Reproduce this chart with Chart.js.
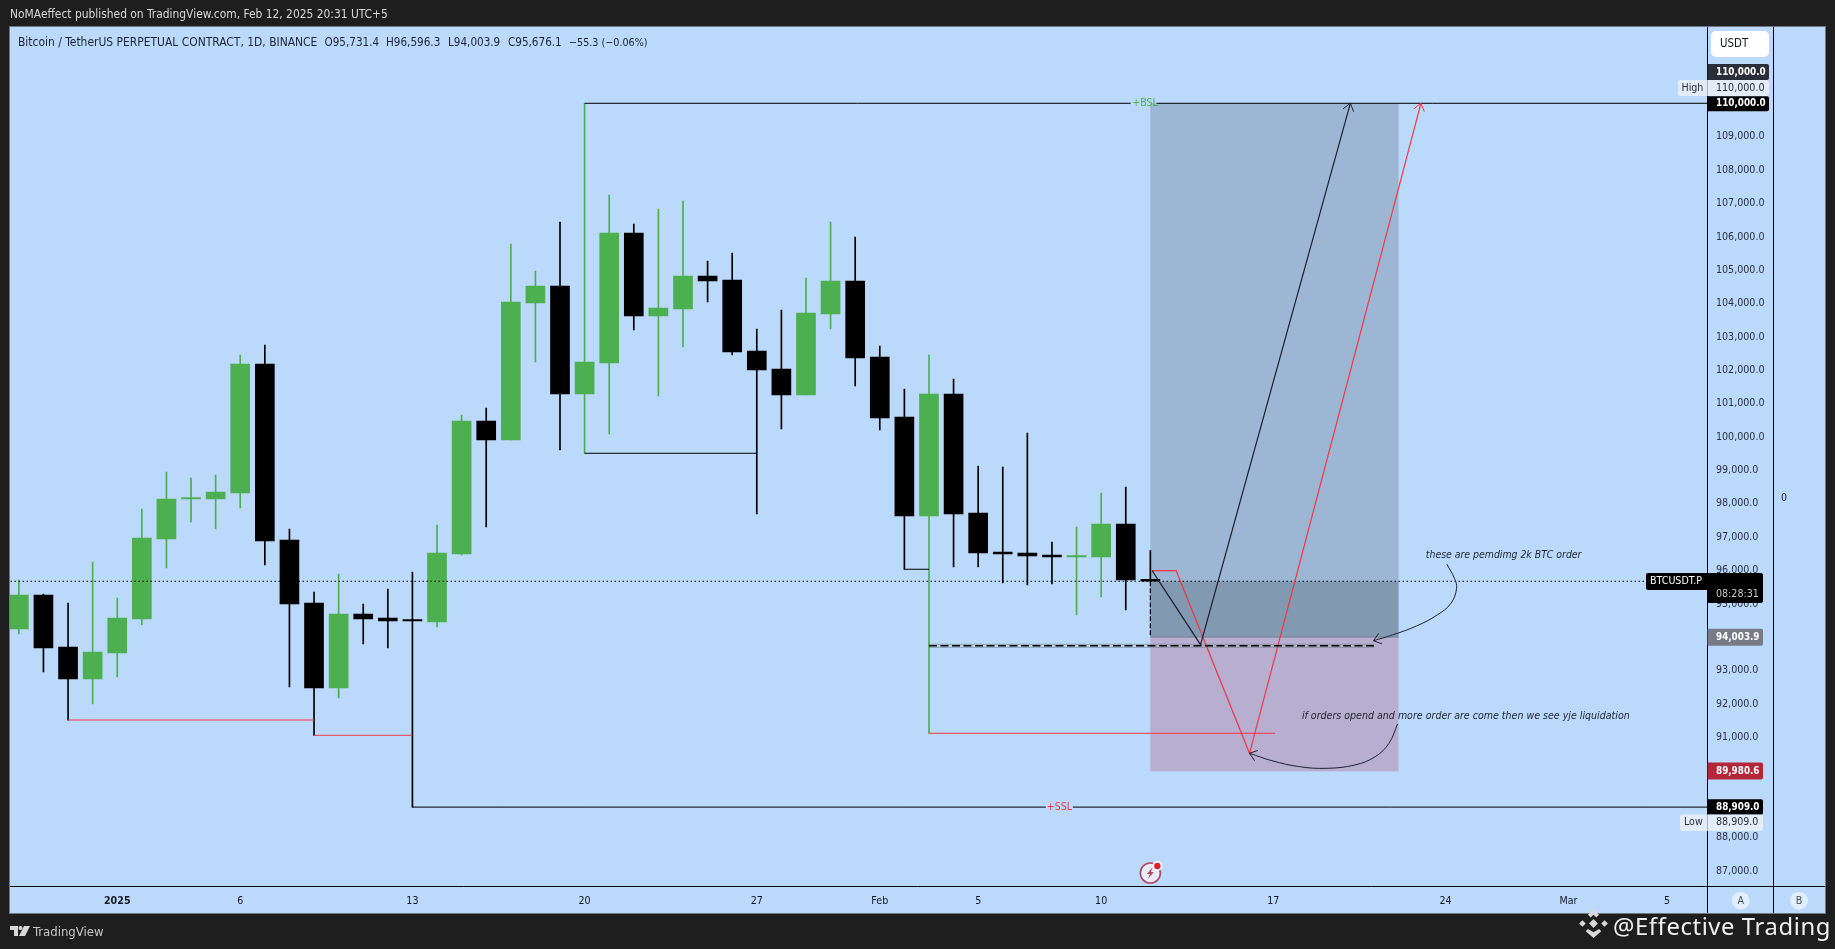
<!DOCTYPE html>
<html lang="en">
<head>
    <meta charset="UTF-8">
    <title>BTCUSDT.P - Chart.js</title>
    <script src="https://cdn.jsdelivr.net/npm/chart.js"></script>
    <style>
        html, body { margin: 0; padding: 0; background: #1e1e1e; overflow: hidden; }
        #wrap { position: relative; width: 1835px; height: 949px; }
        canvas { position: absolute; left: 0; top: 0; }
        .txt { position: absolute; white-space: pre; font-family: "DejaVu Sans Condensed", "Liberation Sans", sans-serif; }
        #published { left: 10px; top: 7px; font-size: 11.9px; color: #d8d8d8; }
        .legend { top: 35px; font-size: 11.6px; color: #1a2433; }
        #tvname { left: 33px; top: 924px; font-size: 13px; color: #c8c8c8; }
        #watermark { left: 1613px; top: 910px; font-family: "Noto Sans", sans-serif; font-size: 23.8px; letter-spacing: 0.6px; color: #f0f0f0; }
        svg { position: absolute; }
    </style>
</head>
<body>
<div id="wrap">
    <canvas id="chart" width="1835" height="949"></canvas>
    <div class="txt" id="published">NoMAeffect published on TradingView.com, Feb 12, 2025 20:31 UTC+5</div>
    <div class="txt legend" style="left:18px;font-size:11.95px">Bitcoin / TetherUS PERPETUAL CONTRACT, 1D, BINANCE</div>
    <div class="txt legend" style="left:324.5px">O95,731.4</div>
    <div class="txt legend" style="left:386px">H96,596.3</div>
    <div class="txt legend" style="left:448px">L94,003.9</div>
    <div class="txt legend" style="left:508px">C95,676.1</div>
    <div class="txt legend" style="left:569px;font-size:10.7px;top:35.5px">−55.3 (−0.06%)</div>
    <svg style="left:10px;top:925px" width="20" height="12" viewBox="0 0 20 12">
        <path d="M0 1h8v10H4V5H0z M14 1h6l-5 10H9z" fill="#d8d8d8"/><circle cx="10.5" cy="3" r="2" fill="#d8d8d8"/>
    </svg>
    <div class="txt" id="tvname">TradingView</div>
    <svg style="left:1578px;top:908px" width="31" height="31" viewBox="0 0 28 28">
        <path d="M14 1l5 5-2.5 2.5L14 6l-2.5 2.5L9 6z M1 14l3-3 3 3-3 3z M21 14l3-3 3 3-3 3z M14 10l4 4-4 4-4-4z M9 19l5 3 5-3 2 2-7 6-7-6z" fill="#d8d8d8"/>
    </svg>
    <div class="txt" id="watermark">@Effective Trading</div>
</div>

<script>
// daily candles, first one is Dec 28 2024
const opens = [94246,95265,93706,92748,93526,94545,96943,98142,98142,98321,102188,96914,95025,92478,94696,94576,94515,94455,96493,100479,
    99909,104015,104525,101289,102218,106113,103626,103836,104824,104705,102577,102037,101259,103686,104675,102397,100599,97632,101288,97722,
    96553,96523,96464,96404,96404,97392,95731.4];
const highs = [95714,95295,95025,96254,95175,97842,98951,98771,98861,102457,102756,97243,95354,95894,94995,95445,95954,97362,100658,100869,
    105783,104974,106443,110000,107252,106383,106833,107072,105274,105514,103236,103806,104765,106443,105994,102727,101438,102456,101738,99130,
    99100,100119,96853,97303,98321,98501,96596.3];
const lows = [94096,92957,91518,91998,92807,94366,96074,97452,97243,97872,96163,92508,91061,92178,93796,93676,88909,94306,96464,97303,
    99909,102248,99610,99510,100090,103206,101229,102697,104045,102457,97693,100239,101259,103236,101528,100210,96032,91115,96103,96103,
    95625,95565,95595,94665,95205,94815,95676.1];
const closes = [95265,93676,92748,93556,94576,96973,98142,98162,98351,102188,96884,94995,92478,94696,94545,94485,94485,96523,100479,99909,
    104045,104525,101289,102248,106113,103626,103866,104824,104675,102547,102007,101259,103716,104675,102367,100570,97632,101288,97692,96523,
    96493,96433,96404,96433,97392,95714,95676.1];

const xTickIndexes = [4, 9, 16, 23, 30, 35, 39, 44, 51, 58, 63, 67];
const xTickLabels = ['2025', '6', '13', '20', '27', 'Feb', '5', '10', '17', '24', 'Mar', '5'];
const yTickValues = [87000,88000,91000,92000,93000,95000,96000,97000,98000,99000,100000,101000,102000,103000,104000,105000,106000,107000,108000,109000];

const lastPrice = 95676.1;
const entryPrice = 94003.9;
const stopPrice = 89980.6;
const targetPrice = 110000;
const lowPrice = 88909;
const boxStart = 46;
const boxEnd = 56.09;

// [x (candle index), price] points of the drawings
const bslLeft = [[23, 110000], [45.2, 110000]];
const bslRight = [[46.25, 110000], [68.67, 110000]];
const sslLeft = [[16, 88909], [41.75, 88909]];
const sslRight = [[42.85, 88909], [68.67, 88909]];
const redSweepA = [[2, 91519], [12, 91519]];
const redSweepB = [[12, 91061], [16, 91061]];
const redSweepC = [[37, 91121], [51.07, 91121]];
const blackSweepA = [[23, 99512], [30, 99512]];
const blackSweepB = [[36, 96036], [37, 96036]];
const pendingLine = [[37, 93745], [55.1, 93745]];
const pendingTop = [[37, 93787], [55.1, 93787]];
const pendingBottom = [[37, 93697], [55.1, 93697]];
const lastCandleDash = [[46, 95676], [46, 94004]];
const blackPath = [[46.07, 95994], [48.04, 93776], [54.13, 110000]];
const redPath = [[46.07, 95994], [47.05, 95994], [50.03, 90522], [57, 110000]];
const curveOne = [[58.05, 96194], [58.36, 95766], [58.45, 95466], [58.22, 95017], [57.66, 94666], [56.82, 94336], [55.84, 94067], [55.07, 93896]];
const curveTwo = [[56.05, 91400], [55.7, 90821], [55.14, 90420], [54.31, 90171], [53.18, 90072], [52.07, 90120], [50.94, 90300], [50.03, 90522]];

const noteOne = 'these are pemdimg 2k BTC order';
const noteTwo = 'if orders opend and more order are come then we see yje liquidation';

const GREEN = '#4caf50';
const BLACK = '#000000';
const RED = '#f23645';
const SANS = '"DejaVu Sans Condensed", "Liberation Sans", sans-serif';

const candleColors = closes.map((c, i) => c >= opens[i] ? GREEN : BLACK);

function lineSet(points, color, extra) {
    return Object.assign({
        type: 'line',
        data: points.map(p => ({ x: p[0], y: p[1] })),
        borderColor: color,
        borderWidth: 1,
        pointRadius: 0,
        order: 1
    }, extra || {});
}

function roundRect(ctx, x, y, w, h, r, color) {
    ctx.fillStyle = color;
    ctx.beginPath();
    ctx.roundRect(x, y, w, h, r);
    ctx.fill();
}

function tag(ctx, text, y, h, bg, fg, bold, w) {
    roundRect(ctx, 1707.5, y - h / 2, w || 55.5, h, [0, 2, 2, 0], bg);
    ctx.fillStyle = fg;
    ctx.font = bold ? 'bold 9.8px ' + SANS : '10.6px ' + SANS;
    ctx.textAlign = 'left';
    ctx.textBaseline = 'middle';
    ctx.fillText(text, 1716, y);
}

function arrowHead(ctx, xs, ys, points, color) {
    const n = points.length;
    const tipX = xs.getPixelForValue(points[n - 1][0]);
    const tipY = ys.getPixelForValue(points[n - 1][1]);
    const a = Math.atan2(ys.getPixelForValue(points[n - 2][1]) - tipY, xs.getPixelForValue(points[n - 2][0]) - tipX);
    ctx.strokeStyle = color;
    ctx.lineWidth = 1;
    ctx.beginPath();
    ctx.moveTo(tipX + 9 * Math.cos(a + 0.65), tipY + 9 * Math.sin(a + 0.65));
    ctx.lineTo(tipX, tipY);
    ctx.lineTo(tipX + 9 * Math.cos(a - 0.65), tipY + 9 * Math.sin(a - 0.65));
    ctx.stroke();
}

const paneBackground = {
    id: 'paneBackground',
    beforeDraw(chart) {
        const ctx = chart.ctx;
        ctx.save();
        ctx.fillStyle = '#bbd9fb';
        ctx.fillRect(10, 27, 1815, 886);
        ctx.strokeStyle = '#6f7680';
        ctx.strokeRect(9.5, 26.5, 1816, 887);
        ctx.restore();
    },
    beforeDatasetsDraw(chart) {
        const ctx = chart.ctx;
        const xs = chart.scales.x, ys = chart.scales.y;
        const left = xs.getPixelForValue(boxStart), right = xs.getPixelForValue(boxEnd);
        const band = (top, bottom, color) => {
            const y0 = ys.getPixelForValue(top), y1 = ys.getPixelForValue(bottom);
            ctx.fillStyle = color;
            ctx.fillRect(left, y0, right - left, y1 - y0);
        };
        ctx.save();
        band(targetPrice, lastPrice, '#9db6d4');
        band(lastPrice, entryPrice, '#8299b2');
        band(entryPrice, stopPrice, '#b8aed0');
        ctx.strokeStyle = '#76808f';
        ctx.beginPath();
        ctx.moveTo(left, ys.getPixelForValue(entryPrice));
        ctx.lineTo(right, ys.getPixelForValue(entryPrice));
        ctx.stroke();
        ctx.restore();
    }
};

const overlays = {
    id: 'overlays',
    afterDraw(chart) {
        const ctx = chart.ctx;
        const xs = chart.scales.x, ys = chart.scales.y;
        ctx.save();

        // axis separators
        ctx.strokeStyle = '#000';
        ctx.lineWidth = 1;
        ctx.beginPath();
        ctx.moveTo(10, 886.5); ctx.lineTo(1825, 886.5);
        ctx.moveTo(1707.5, 27); ctx.lineTo(1707.5, 913);
        ctx.moveTo(1773.5, 27); ctx.lineTo(1773.5, 913);
        ctx.stroke();

        // arrow ends
        arrowHead(ctx, xs, ys, blackPath, '#1c2230');
        arrowHead(ctx, xs, ys, redPath, RED);
        arrowHead(ctx, xs, ys, curveOne, '#1c2230');
        arrowHead(ctx, xs, ys, curveTwo, '#1c2230');

        // +BSL / +SSL
        ctx.textBaseline = 'middle';
        ctx.textAlign = 'center';
        ctx.font = '10.5px ' + SANS;
        ctx.fillStyle = GREEN;
        ctx.fillText('+BSL', xs.getPixelForValue(45.78), ys.getPixelForValue(targetPrice));
        ctx.fillStyle = RED;
        ctx.fillText('+SSL', xs.getPixelForValue(42.3), ys.getPixelForValue(lowPrice));

        // notes
        ctx.textAlign = 'left';
        ctx.fillStyle = '#1c2230';
        ctx.font = 'italic 10.4px ' + SANS;
        ctx.fillText(noteOne, xs.getPixelForValue(57.2), ys.getPixelForValue(96460));
        ctx.font = 'italic 10.55px ' + SANS;
        ctx.fillText(noteTwo, xs.getPixelForValue(52.16), ys.getPixelForValue(91620));

        // lightning marker on the last candle
        const ix = xs.getPixelForValue(46), iy = 873;
        ctx.strokeStyle = '#b5455f';
        ctx.lineWidth = 1.6;
        ctx.fillStyle = '#e8eef8';
        ctx.beginPath(); ctx.arc(ix, iy, 10, 0, Math.PI * 2); ctx.fill(); ctx.stroke();
        ctx.fillStyle = '#b5455f';
        ctx.beginPath();
        ctx.moveTo(ix + 2.5, iy - 6); ctx.lineTo(ix - 3.5, iy + 1); ctx.lineTo(ix - 0.5, iy + 1);
        ctx.lineTo(ix - 2.5, iy + 6); ctx.lineTo(ix + 3.5, iy - 1); ctx.lineTo(ix + 0.5, iy - 1);
        ctx.closePath(); ctx.fill();
        ctx.fillStyle = '#fff';
        ctx.beginPath(); ctx.arc(ix + 7, iy - 7, 5, 0, Math.PI * 2); ctx.fill();
        ctx.fillStyle = '#e0202c';
        ctx.beginPath(); ctx.arc(ix + 7, iy - 7, 3.2, 0, Math.PI * 2); ctx.fill();

        // unit button
        roundRect(ctx, 1711, 31, 58, 26, 5, '#ffffff');
        ctx.fillStyle = '#131722';
        ctx.font = '11.4px ' + SANS;
        ctx.fillText('USDT', 1720, 44.5);

        // price tags
        tag(ctx, '110,000.0', 72, 16, '#2a2e39', '#fff', true, 61.5);
        tag(ctx, '110,000.0', 88, 16, '#e3edf9', '#2a2e39', false, 61.5);
        tag(ctx, '110,000.0', 103.7, 15, '#000', '#fff', true, 61.5);
        roundRect(ctx, 1678, 80, 29.5, 16, [2, 0, 0, 2], '#e3edf9');
        ctx.fillStyle = '#2a2e39';
        ctx.font = '10.6px ' + SANS;
        ctx.fillText('High', 1681.5, 88);

        roundRect(ctx, 1646, 573, 61.5, 17, [2, 0, 0, 2], '#000');
        ctx.fillStyle = '#fff';
        ctx.font = '10.6px ' + SANS;
        ctx.fillText('BTCUSDT.P', 1650, 581.5);
        roundRect(ctx, 1707.5, 573, 55.5, 30, [0, 2, 2, 0], '#000');
        ctx.font = 'bold 9.8px ' + SANS;
        ctx.fillText('95,676.1', 1716, 581.5);
        ctx.fillStyle = '#c9c9c9';
        ctx.font = '10.6px ' + SANS;
        ctx.fillText('08:28:31', 1716, 594.5);

        tag(ctx, '94,003.9', 637.3, 17, '#787b86', '#fff', true);
        tag(ctx, '89,980.6', 771, 17, '#b2283a', '#fff', true);
        tag(ctx, '88,909.0', 807, 15.5, '#000', '#fff', true);
        tag(ctx, '88,909.0', 822.7, 16.5, '#e3edf9', '#2a2e39', false);
        roundRect(ctx, 1680, 814.5, 27.5, 16.5, [2, 0, 0, 2], '#e3edf9');
        ctx.fillStyle = '#2a2e39';
        ctx.font = '10.6px ' + SANS;
        ctx.fillText('Low', 1684, 822.7);

        ctx.fillStyle = '#1c2230';
        ctx.fillText('0', 1781, 498.5);

        // scale buttons
        [['A', 1740.7], ['B', 1799]].forEach(b => {
            ctx.fillStyle = 'rgba(255,255,255,0.55)';
            ctx.beginPath(); ctx.arc(b[1], 900.7, 9, 0, Math.PI * 2); ctx.fill();
            ctx.fillStyle = '#4a4e5a';
            ctx.textAlign = 'center';
            ctx.fillText(b[0], b[1], 901);
        });
        ctx.restore();
    }
};

new Chart(document.getElementById('chart').getContext('2d'), {
    type: 'bar',
    data: {
        datasets: [
            {
                data: lows.map((l, i) => ({ x: i, y: [l, highs[i]] })),
                backgroundColor: candleColors,
                grouped: false, barThickness: 1, minBarLength: 1, borderWidth: 0, order: 5
            },
            {
                data: opens.map((o, i) => ({ x: i, y: [o, closes[i]] })),
                backgroundColor: candleColors,
                grouped: false, barThickness: 19, minBarLength: 1.5, borderWidth: 0, order: 4
            },
            lineSet(pendingTop, 'rgba(120,140,150,0.75)', { order: 3 }),
            lineSet(pendingBottom, 'rgba(120,140,150,0.75)', { order: 3 }),
            lineSet([[-0.34, lastPrice], [66.2, lastPrice]], '#000', { borderDash: [1.5, 2.5], order: 2 }),
            lineSet(pendingLine, '#000', { borderDash: [8, 3.5], borderWidth: 1.4 }),
            lineSet(lastCandleDash, '#000', { borderDash: [5, 2], borderWidth: 1.2 }),
            lineSet(bslLeft, '#000'),
            lineSet(bslRight, '#000'),
            lineSet(sslLeft, '#000'),
            lineSet(sslRight, '#000'),
            lineSet(redSweepA, RED),
            lineSet(redSweepB, RED),
            lineSet(redSweepC, RED),
            lineSet(blackSweepA, '#000'),
            lineSet(blackSweepB, '#000'),
            lineSet(blackPath, '#1c2230', { borderWidth: 1.2 }),
            lineSet(redPath, RED, { borderWidth: 1.2 }),
            lineSet(curveOne, '#1c2230', { tension: 0.4 }),
            lineSet(curveTwo, '#1c2230', { tension: 0.4 })
        ]
    },
    options: {
        responsive: false,
        animation: false,
        events: [],
        layout: { padding: { left: 10, top: 27, right: 61.5, bottom: 36 } },
        plugins: { legend: { display: false }, tooltip: { enabled: false } },
        scales: {
            x: {
                type: 'linear',
                offset: false,
                min: -0.36,
                max: 68.65,
                grid: { display: false, drawTicks: false, offset: false },
                border: { display: false },
                afterFit(scale) { scale.height = 27; },
                afterBuildTicks(scale) { scale.ticks = xTickIndexes.map(v => ({ value: v })); },
                ticks: {
                    autoSkip: false,
                    maxRotation: 0,
                    padding: 9,
                    color: '#131722',
                    font: ctx => ({ family: SANS, size: 10.6, weight: ctx.tick && ctx.tick.value === 4 ? 'bold' : 'normal' }),
                    callback: v => xTickLabels[xTickIndexes.indexOf(v)]
                }
            },
            y: {
                type: 'linear',
                position: 'right',
                min: 86545,
                max: 112286,
                grid: { display: false, drawTicks: false },
                border: { display: false },
                afterFit(scale) { scale.width = 66; },
                afterBuildTicks(scale) { scale.ticks = yTickValues.map(v => ({ value: v })); },
                ticks: {
                    autoSkip: false,
                    padding: 8.5,
                    color: '#2a3040',
                    font: { family: SANS, size: 10.6 },
                    callback: v => v.toLocaleString('en-US', { minimumFractionDigits: 1 })
                }
            }
        }
    },
    plugins: [paneBackground, overlays]
});
</script>
</body>
</html>
